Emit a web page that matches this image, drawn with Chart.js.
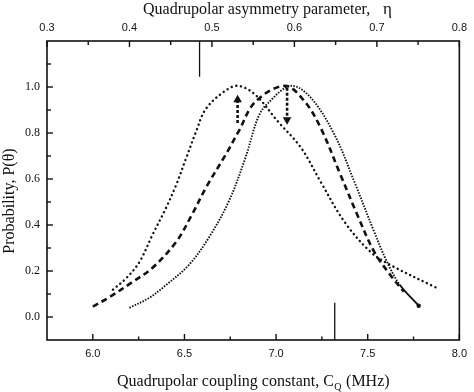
<!DOCTYPE html>
<html>
<head>
<meta charset="utf-8">
<script src="https://cdn.jsdelivr.net/npm/chart.js@4.4.0/dist/chart.umd.min.js"></script>
<style>
  body { margin: 0; background: #fff; }
  canvas { display: block; }
</style>
</head>
<body>
<canvas id="grafico" width="474" height="392"></canvas>
<script>
// eixos
const cqTicks = [6.0, 6.5, 7.0, 7.5, 8.0];
const cqMinor = [6.25, 6.75, 7.25, 7.75];
const etaTicks = [0.3, 0.4, 0.5, 0.6, 0.7, 0.8];
const etaMinor = [0.35, 0.45, 0.55, 0.65, 0.75];
const probTicks = [0.0, 0.2, 0.4, 0.6, 0.8, 1.0];
const probMinor = [0.1, 0.3, 0.5, 0.7, 0.9, 1.1];

// curva pontilhada (esparsa)
const cqPont = [6.11, 6.185, 6.255, 6.326, 6.40, 6.455, 6.51, 6.563, 6.617, 6.725, 6.795, 6.887, 7.011, 7.136, 7.243, 7.373, 7.514, 7.622, 7.875];
const pPont  = [0.119, 0.171, 0.240, 0.358, 0.475, 0.575, 0.692, 0.805, 0.905, 0.985, 1.005, 0.966, 0.849, 0.736, 0.588, 0.414, 0.284, 0.227, 0.127];

// curva tracejada
const cqTrac = [6.00, 6.094, 6.218, 6.326, 6.455, 6.541, 6.617, 6.725, 6.795, 6.887, 7.049, 7.157, 7.243, 7.351, 7.443, 7.535, 7.622, 7.697];
const pTrac  = [0.045, 0.088, 0.153, 0.214, 0.327, 0.445, 0.562, 0.706, 0.806, 0.936, 1.005, 0.936, 0.823, 0.619, 0.445, 0.284, 0.184, 0.110];

// curva pontilhada fina
const cqFina = [6.20, 6.309, 6.401, 6.525, 6.633, 6.741, 6.833, 6.903, 6.957, 7.081, 7.19, 7.319, 7.427, 7.535, 7.605, 7.675, 7.778];
const pFina  = [0.040, 0.084, 0.140, 0.227, 0.345, 0.501, 0.693, 0.870, 0.931, 1.005, 0.953, 0.792, 0.588, 0.371, 0.240, 0.140, 0.049];

// marcadores verticais e setas
const etaMarca = 0.485, etaMarcaY = [1.2, 1.045];
const cqMarca = 7.32, cqMarcaY = [-0.1, 0.062];
const setaSobe = { x: 6.79, y: [0.844, 0.945] };
const setaDesce = { x: 7.06, y: [0.997, 0.858] };

const pares = (xs, ys) => xs.map((x, i) => ({ x, y: ys[i] }));

const fina = pares(cqFina, pFina);
const ultimo = fina.length - 1;

const ticksInternos = {
  id: 'ticksInternos',
  afterDraw(chart) {
    const { ctx, chartArea: a, scales } = chart;
    ctx.save();
    ctx.strokeStyle = '#111';
    ctx.lineWidth = 1.6;
    ctx.strokeRect(a.left, a.top, a.right - a.left, a.bottom - a.top);
    ctx.lineWidth = 1.4;
    const risco = (x1, y1, x2, y2) => { ctx.beginPath(); ctx.moveTo(x1, y1); ctx.lineTo(x2, y2); ctx.stroke(); };
    cqTicks.forEach(v => { const px = scales.x.getPixelForValue(v); risco(px, a.bottom, px, a.bottom - 6); });
    cqMinor.forEach(v => { const px = scales.x.getPixelForValue(v); risco(px, a.bottom, px, a.bottom - 3.5); });
    etaTicks.forEach(v => { const px = scales.x2.getPixelForValue(v); risco(px, a.top, px, a.top + 6); });
    etaMinor.forEach(v => { const px = scales.x2.getPixelForValue(v); risco(px, a.top, px, a.top + 4); });
    probTicks.forEach(v => { const py = scales.y.getPixelForValue(v); risco(a.left, py, a.left + 6, py); });
    probMinor.forEach(v => { const py = scales.y.getPixelForValue(v); risco(a.left, py, a.left + 4, py); });

    // títulos dos eixos
    ctx.fillStyle = '#111';
    ctx.font = '16px "Liberation Serif"';
    ctx.textBaseline = 'alphabetic';
    ctx.textAlign = 'left';
    ctx.fillText('Quadrupolar asymmetry parameter,', 143, 14);
    ctx.font = '17px "Liberation Serif"';
    ctx.fillText('η', 383, 14);

    ctx.font = '16px "Liberation Serif"';
    const t1 = 'Quadrupolar coupling constant, C';
    ctx.fillText(t1, 117, 386);
    let px = 117 + ctx.measureText(t1).width;
    ctx.font = '10px "Liberation Serif"';
    ctx.fillText('Q', px + 0.5, 390);
    px += ctx.measureText('Q').width + 1;
    ctx.font = '16px "Liberation Serif"';
    ctx.fillText(' (MHz)', px, 386);

    ctx.translate(14, 201);
    ctx.rotate(-Math.PI / 2);
    ctx.textAlign = 'center';
    ctx.fillText('Probability, P(θ)', 0, 0);
    ctx.restore();
  }
};

new Chart(document.getElementById('grafico'), {
  type: 'scatter',
  data: {
    datasets: [
      {
        data: pares(cqPont, pPont),
        showLine: true,
        borderColor: '#111',
        borderWidth: 2.4,
        borderDash: [0.1, 4.6],
        borderCapStyle: 'round',
        tension: 0.35,
        pointRadius: 0,
      },
      {
        data: pares(cqTrac, pTrac),
        showLine: true,
        borderColor: '#111',
        borderWidth: 2.6,
        borderDash: [6, 4],
        tension: 0.35,
        pointRadius: 0,
      },
      {
        data: fina,
        showLine: true,
        borderColor: '#111',
        borderWidth: 1.9,
        borderDash: [1.5, 1.4],
        segment: {
          borderDash: c => c.p1DataIndex === ultimo ? [] : [1.5, 1.4],
        },
        tension: 0.35,
        pointRadius: c => c.dataIndex === ultimo ? 2.2 : 0,
        pointBackgroundColor: '#111',
        pointBorderWidth: 0,
      },
      {
        data: etaMarcaY.map(y => ({ x: etaMarca, y })),
        xAxisID: 'x2',
        showLine: true,
        borderColor: '#111',
        borderWidth: 1.3,
        pointRadius: 0,
      },
      {
        data: cqMarcaY.map(y => ({ x: cqMarca, y })),
        showLine: true,
        borderColor: '#111',
        borderWidth: 1.3,
        pointRadius: 0,
      },
      {
        data: setaSobe.y.map(y => ({ x: setaSobe.x, y })),
        showLine: true,
        borderColor: '#111',
        borderWidth: 2.6,
        borderDash: [3, 2],
        pointStyle: 'triangle',
        pointRadius: c => c.dataIndex === 1 ? 5 : 0,
        pointBackgroundColor: '#111',
        pointBorderColor: '#111',
        pointBorderWidth: 0,
      },
      {
        data: setaDesce.y.map(y => ({ x: setaDesce.x, y })),
        showLine: true,
        borderColor: '#111',
        borderWidth: 2.6,
        borderDash: [3, 2],
        pointStyle: 'triangle',
        rotation: 180,
        pointRadius: c => c.dataIndex === 1 ? 5 : 0,
        pointBackgroundColor: '#111',
        pointBorderColor: '#111',
        pointBorderWidth: 0,
      },
    ]
  },
  options: {
    responsive: false,
    animation: false,
    devicePixelRatio: 1,
    layout: { padding: { right: 10 } },
    plugins: {
      legend: { display: false },
      tooltip: { enabled: false },
    },
    scales: {
      x: {
        type: 'linear',
        position: 'bottom',
        min: 5.75,
        max: 8.0,
        afterBuildTicks: s => { s.ticks = cqTicks.map(value => ({ value })); },
        afterFit: s => { s.height = 52; },
        ticks: {
          callback: v => v.toFixed(1),
          font: { family: '"Liberation Sans"', size: 11 },
          color: '#111',
          padding: 7,
          maxRotation: 0,
        },
        grid: { display: false, drawTicks: false },
        border: { display: false },
      },
      x2: {
        type: 'linear',
        position: 'top',
        min: 0.3,
        max: 0.8,
        afterBuildTicks: s => { s.ticks = etaTicks.map(value => ({ value })); },
        afterFit: s => { s.height = 41; },
        ticks: {
          callback: v => v.toFixed(1),
          font: { family: '"Liberation Sans"', size: 11 },
          color: '#111',
          padding: 6,
          maxRotation: 0,
        },
        grid: { display: false, drawTicks: false },
        border: { display: false },
      },
      y: {
        type: 'linear',
        min: -0.1,
        max: 1.2,
        afterBuildTicks: s => { s.ticks = probTicks.map(value => ({ value })); },
        afterFit: s => { s.width = 47; },
        ticks: {
          callback: v => v.toFixed(1),
          font: { family: '"Liberation Serif"', size: 12 },
          color: '#111',
          padding: 7,
        },
        grid: { display: false, drawTicks: false },
        border: { display: false },
      },
    }
  },
  plugins: [ticksInternos]
});
</script>
</body>
</html>
